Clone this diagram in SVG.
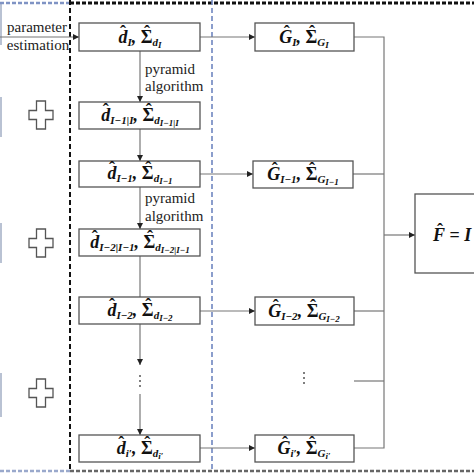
<svg xmlns="http://www.w3.org/2000/svg" width="474" height="474" viewBox="0 0 474 474">
<defs>
<style>
.box{fill:#fff;stroke:#555;stroke-width:1.3}
.ln{fill:none;stroke:#777;stroke-width:1.2}
.m{font-family:"Liberation Serif","Times New Roman",serif;font-weight:bold;font-style:italic;font-size:18px;fill:#111;text-anchor:middle}
.up{font-style:normal}
.h{font-style:normal;font-weight:bold}
.s{font-size:11px}
.ss{font-size:9px}
.lbl{font-family:"Liberation Serif",serif;font-size:15px;fill:#222}
.plus{fill:#fff;stroke:#555;stroke-width:1.3}
.dot{fill:#555}
</style>
<marker id="ah" viewBox="0 0 6 6" refX="6" refY="3" markerWidth="6" markerHeight="6" markerUnits="userSpaceOnUse" orient="auto">
<path d="M0,0 L6,3 L0,6 z" fill="#222"/>
</marker>
<path id="plusShape" d="M-4.5,-14 h9 v9.5 h7.5 v9 h-7.5 v9.5 h-9 v-9.5 h-7.5 v-9 h7.5 z"/>
</defs>
<rect width="474" height="474" fill="#fff"/>

<g id="frame">
<rect x="0" y="2" width="2" height="43" fill="#b9c2d3"/>
<rect x="0" y="97" width="2" height="40" fill="#b9c2d3"/>
<rect x="0" y="223" width="2" height="40" fill="#b9c2d3"/>
<rect x="0" y="373" width="2" height="44" fill="#b9c2d3"/>
<line x1="0" y1="3" x2="70" y2="3" stroke="#7f93c4" stroke-width="2.5" stroke-dasharray="4,2"/>
<line x1="70" y1="3" x2="474" y2="3" stroke="#111" stroke-width="3" stroke-dasharray="4,2"/>
<line x1="0" y1="471" x2="70" y2="471" stroke="#9aa9cc" stroke-width="2.5" stroke-dasharray="4,2"/>
<line x1="70" y1="471" x2="474" y2="471" stroke="#666" stroke-width="2.5" stroke-dasharray="4,2"/>
<line x1="70" y1="0" x2="70" y2="471" stroke="#111" stroke-width="2" stroke-dasharray="5,3"/>
<line x1="212" y1="0" x2="212" y2="471" stroke="#6f86c0" stroke-width="1.6" stroke-dasharray="5,3"/>
</g>

<g id="plus-signs">
<use href="#plusShape" class="plus" x="41" y="115"/>
<use href="#plusShape" class="plus" x="41" y="243"/>
<use href="#plusShape" class="plus" x="41" y="393"/>
</g>

<g id="connectors">
<line class="ln" x1="0" y1="37" x2="79" y2="37" marker-end="url(#ah)"/>
<line class="ln" x1="140" y1="51" x2="140" y2="102" marker-end="url(#ah)"/>
<line class="ln" x1="140" y1="129" x2="140" y2="161" marker-end="url(#ah)"/>
<line class="ln" x1="140" y1="187" x2="140" y2="229" marker-end="url(#ah)"/>
<line class="ln" x1="140" y1="256" x2="140" y2="365" marker-end="url(#ah)"/>
<line class="ln" x1="140" y1="394" x2="140" y2="435" marker-end="url(#ah)"/>
<line class="ln" x1="200" y1="37" x2="255" y2="37" marker-end="url(#ah)"/>
<line class="ln" x1="200" y1="174" x2="253" y2="174" marker-end="url(#ah)"/>
<line class="ln" x1="200" y1="311" x2="255" y2="311" marker-end="url(#ah)"/>
<line class="ln" x1="200" y1="448" x2="255" y2="448" marker-end="url(#ah)"/>
<polyline class="ln" points="354,37 384,37 384,448 354,448"/>
<line class="ln" x1="353" y1="174" x2="384" y2="174"/>
<line class="ln" x1="354" y1="311" x2="384" y2="311"/>
<line class="ln" x1="354" y1="381" x2="384" y2="381"/>
<line class="ln" x1="384" y1="235" x2="415" y2="235" marker-end="url(#ah)"/>
<circle class="dot" cx="140" cy="376" r="1"/>
<circle class="dot" cx="140" cy="381" r="1"/>
<circle class="dot" cx="140" cy="386" r="1"/>
<circle class="dot" cx="304" cy="373" r="1"/>
<circle class="dot" cx="304" cy="378" r="1"/>
<circle class="dot" cx="304" cy="383" r="1"/>
</g>

<g id="labels">
<text class="lbl" x="37" y="32" text-anchor="middle">parameter</text>
<text class="lbl" x="38" y="50" text-anchor="middle">estimation</text>
<text class="lbl" x="145" y="74">pyramid</text>
<text class="lbl" x="145" y="91">algorithm</text>
<text class="lbl" x="145" y="203">pyramid</text>
<text class="lbl" x="145" y="221">algorithm</text>
</g>

<g id="d-I">
<rect class="box" x="79" y="23" width="121" height="28"/>
<text class="m" x="140" y="43"><tspan>d</tspan><tspan class="h" dx="-7.5" dy="-5">ˆ</tspan><tspan class="s" dx="1.5" dy="8">I</tspan><tspan dy="-3">, </tspan><tspan class="up">Σ</tspan><tspan class="h" dx="-8.4" dy="-5">ˆ</tspan><tspan class="s" dx="2.4" dy="8">d</tspan><tspan class="ss" dy="2">I</tspan></text>
</g>
<g id="d-I-1-I">
<rect class="box" x="79" y="102" width="121" height="27"/>
<text class="m" x="140" y="121"><tspan>d</tspan><tspan class="h" dx="-7.5" dy="-5">ˆ</tspan><tspan class="s" dx="1.5" dy="8">I−1|I</tspan><tspan dy="-3">, </tspan><tspan class="up">Σ</tspan><tspan class="h" dx="-8.4" dy="-5">ˆ</tspan><tspan class="s" dx="2.4" dy="8">d</tspan><tspan class="ss" dy="2">I−1|I</tspan></text>
</g>
<g id="d-I-1">
<rect class="box" x="79" y="161" width="121" height="26"/>
<text class="m" x="140" y="179"><tspan>d</tspan><tspan class="h" dx="-7.5" dy="-5">ˆ</tspan><tspan class="s" dx="1.5" dy="8">I−1</tspan><tspan dy="-3">, </tspan><tspan class="up">Σ</tspan><tspan class="h" dx="-8.4" dy="-5">ˆ</tspan><tspan class="s" dx="2.4" dy="8">d</tspan><tspan class="ss" dy="2">I−1</tspan></text>
</g>
<g id="d-I-2-I-1">
<rect class="box" x="79" y="229" width="121" height="27"/>
<text class="m" x="140" y="248"><tspan>d</tspan><tspan class="h" dx="-7.5" dy="-5">ˆ</tspan><tspan class="s" dx="1.5" dy="8">I−2|I−1</tspan><tspan dy="-3">, </tspan><tspan class="up">Σ</tspan><tspan class="h" dx="-8.4" dy="-5">ˆ</tspan><tspan class="s" dx="2.4" dy="8">d</tspan><tspan class="ss" dy="2">I−2|I−1</tspan></text>
</g>
<g id="d-I-2">
<rect class="box" x="79" y="297" width="121" height="27"/>
<text class="m" x="140" y="316"><tspan>d</tspan><tspan class="h" dx="-7.5" dy="-5">ˆ</tspan><tspan class="s" dx="1.5" dy="8">I−2</tspan><tspan dy="-3">, </tspan><tspan class="up">Σ</tspan><tspan class="h" dx="-8.4" dy="-5">ˆ</tspan><tspan class="s" dx="2.4" dy="8">d</tspan><tspan class="ss" dy="2">I−2</tspan></text>
</g>
<g id="d-i">
<rect class="box" x="79" y="435" width="121" height="27"/>
<text class="m" x="140" y="454"><tspan>d</tspan><tspan class="h" dx="-7.5" dy="-5">ˆ</tspan><tspan class="s" dx="1.5" dy="8">i′</tspan><tspan dy="-3">, </tspan><tspan class="up">Σ</tspan><tspan class="h" dx="-8.4" dy="-5">ˆ</tspan><tspan class="s" dx="2.4" dy="8">d</tspan><tspan class="ss" dy="2">i′</tspan></text>
</g>

<g id="G-I">
<rect class="box" x="255" y="23" width="99" height="28"/>
<text class="m" x="304" y="43"><tspan>G</tspan><tspan class="h" dx="-8.5" dy="-5">ˆ</tspan><tspan class="s" dx="2.5" dy="8">I</tspan><tspan dy="-3">, </tspan><tspan class="up">Σ</tspan><tspan class="h" dx="-8.4" dy="-5">ˆ</tspan><tspan class="s" dx="2.4" dy="8">G</tspan><tspan class="ss" dy="2">I</tspan></text>
</g>
<g id="G-I-1">
<rect class="box" x="253" y="161" width="100" height="27"/>
<text class="m" x="303" y="180"><tspan>G</tspan><tspan class="h" dx="-8.5" dy="-5">ˆ</tspan><tspan class="s" dx="2.5" dy="8">I−1</tspan><tspan dy="-3">, </tspan><tspan class="up">Σ</tspan><tspan class="h" dx="-8.4" dy="-5">ˆ</tspan><tspan class="s" dx="2.4" dy="8">G</tspan><tspan class="ss" dy="2">I−1</tspan></text>
</g>
<g id="G-I-2">
<rect class="box" x="255" y="297" width="99" height="28"/>
<text class="m" x="304" y="317"><tspan>G</tspan><tspan class="h" dx="-8.5" dy="-5">ˆ</tspan><tspan class="s" dx="2.5" dy="8">I−2</tspan><tspan dy="-3">, </tspan><tspan class="up">Σ</tspan><tspan class="h" dx="-8.4" dy="-5">ˆ</tspan><tspan class="s" dx="2.4" dy="8">G</tspan><tspan class="ss" dy="2">I−2</tspan></text>
</g>
<g id="G-i">
<rect class="box" x="255" y="435" width="99" height="27"/>
<text class="m" x="304" y="454"><tspan>G</tspan><tspan class="h" dx="-8.5" dy="-5">ˆ</tspan><tspan class="s" dx="2.5" dy="8">i′</tspan><tspan dy="-3">, </tspan><tspan class="up">Σ</tspan><tspan class="h" dx="-8.4" dy="-5">ˆ</tspan><tspan class="s" dx="2.4" dy="8">G</tspan><tspan class="ss" dy="2">i′</tspan></text>
</g>

<g id="F">
<rect class="box" x="415" y="194" width="80" height="79"/>
<text class="m" x="433" y="241" style="text-anchor:start"><tspan>F</tspan><tspan class="h" dx="-8" dy="-5">ˆ</tspan><tspan dx="2" dy="5"> </tspan><tspan class="up">=</tspan><tspan> I</tspan></text>
</g>
</svg>
